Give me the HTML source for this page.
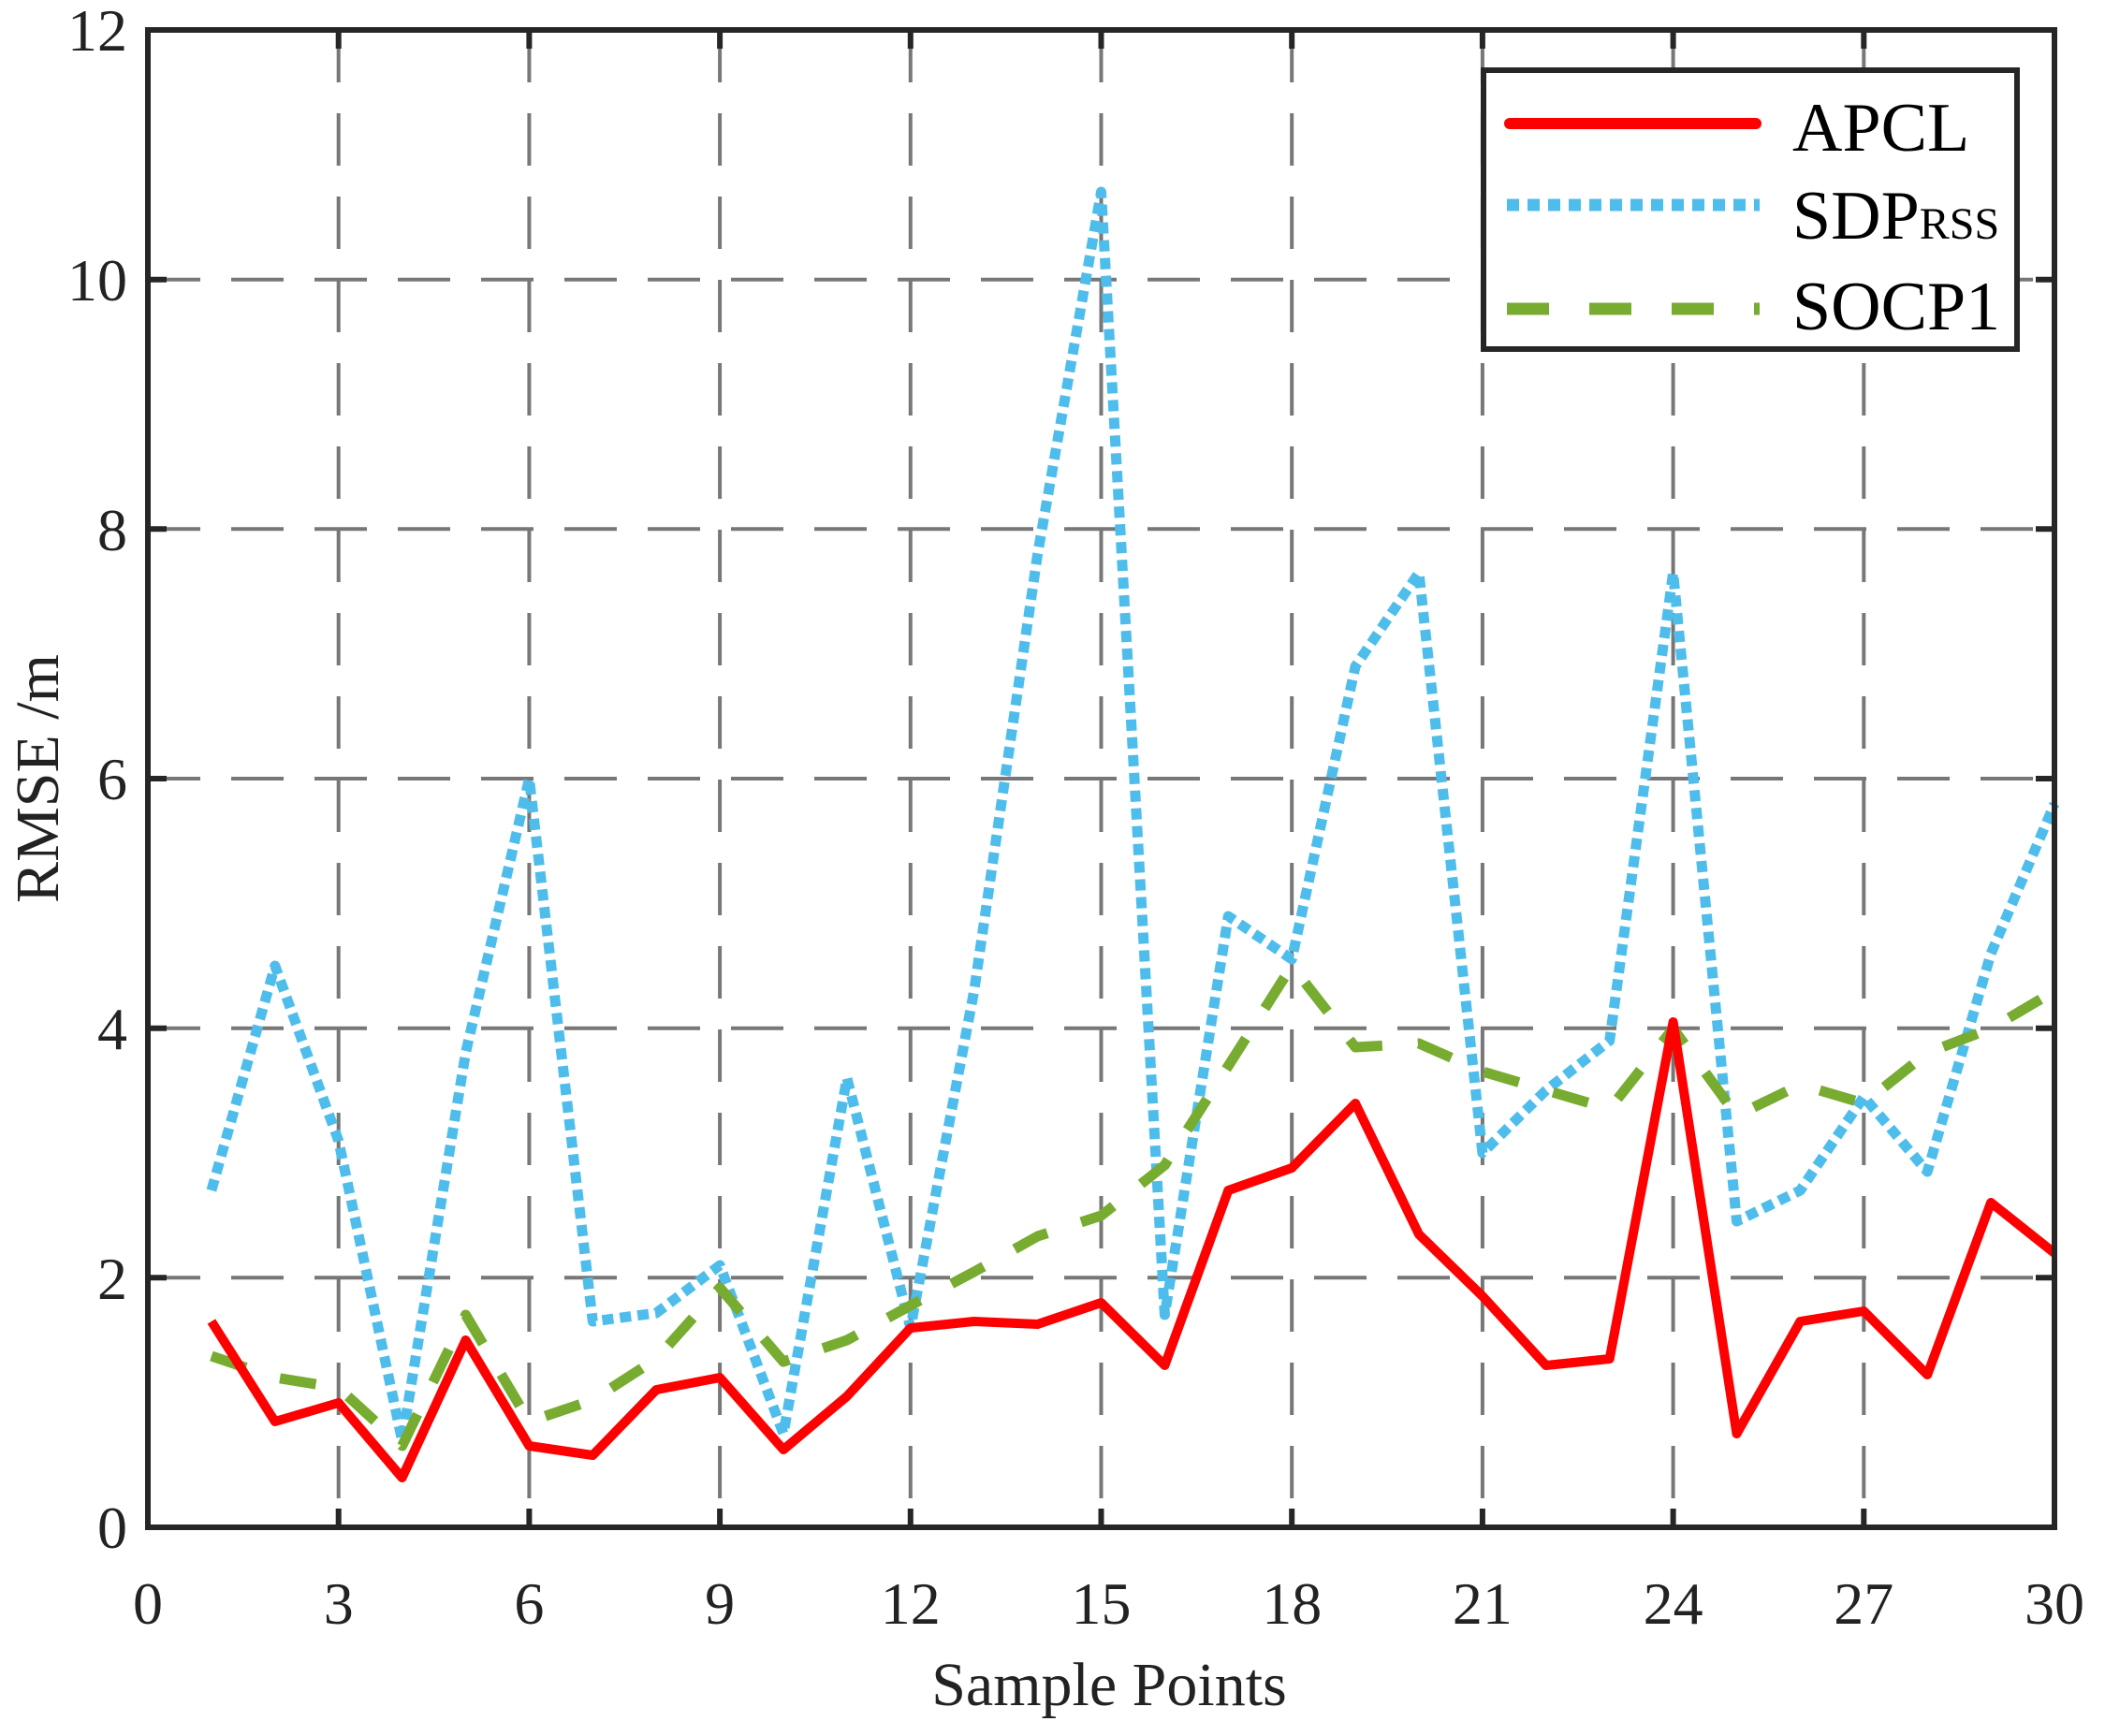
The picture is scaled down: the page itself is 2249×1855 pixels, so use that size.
<!DOCTYPE html>
<html><head><meta charset="utf-8"><style>html,body{margin:0;padding:0;background:#fff}svg{display:block}</style></head>
<body>
<svg width="2249" height="1855" viewBox="0 0 2249 1855" xmlns="http://www.w3.org/2000/svg" font-family="'Liberation Serif', serif" fill="#222">
<rect width="2249" height="1855" fill="#fff"/>
<g stroke="#777" stroke-width="4" stroke-dasharray="56 33">
<line x1="361.7" y1="32" x2="361.7" y2="1632"/><line x1="565.4" y1="32" x2="565.4" y2="1632"/><line x1="769.1" y1="32" x2="769.1" y2="1632"/><line x1="972.8" y1="32" x2="972.8" y2="1632"/><line x1="1176.5" y1="32" x2="1176.5" y2="1632"/><line x1="1380.2" y1="32" x2="1380.2" y2="1632"/><line x1="1583.9" y1="32" x2="1583.9" y2="1632"/><line x1="1787.6" y1="32" x2="1787.6" y2="1632"/><line x1="1991.3" y1="32" x2="1991.3" y2="1632"/>
<line x1="158" y1="1365.3" x2="2195" y2="1365.3"/><line x1="158" y1="1098.7" x2="2195" y2="1098.7"/><line x1="158" y1="832" x2="2195" y2="832"/><line x1="158" y1="565.3" x2="2195" y2="565.3"/><line x1="158" y1="298.7" x2="2195" y2="298.7"/>
</g>
<g fill="none" stroke-linejoin="round">
<polyline stroke="#4FBDEB" stroke-width="11" stroke-dasharray="12 7" points="225.9,1272 293.8,1032 361.7,1219 429.6,1539 497.5,1125 565.4,832 633.3,1412 701.2,1403 769.1,1352 837,1532 904.9,1152 972.8,1419 1040.7,1059 1108.6,592 1176.5,205 1244.4,1405 1312.3,979 1380.2,1025 1448.1,712 1516,612 1583.9,1232 1651.8,1165 1719.7,1112 1787.6,612 1855.5,1305 1923.4,1272 1991.3,1172 2059.2,1252 2127.1,1019 2195,859"/>
<polyline stroke="#77AC30" stroke-width="11" stroke-dasharray="39 38" points="225.9,1449 293.8,1472 361.7,1483 429.6,1545 497.5,1405 565.4,1519 633.3,1496 701.2,1452 769.1,1376 837,1455 904.9,1432 972.8,1395 1040.7,1359 1108.6,1321 1176.5,1299 1244.4,1245 1312.3,1139 1380.2,1032 1448.1,1119 1516,1115 1583.9,1145 1651.8,1165 1719.7,1185 1787.6,1099 1855.5,1192 1923.4,1159 1991.3,1179 2059.2,1125 2127.1,1099 2195,1059"/>
<polyline stroke="#FF0000" stroke-width="10" points="225.9,1412 293.8,1519 361.7,1499 429.6,1579 497.5,1432 565.4,1545 633.3,1555 701.2,1485 769.1,1472 837,1549 904.9,1492 972.8,1419 1040.7,1412 1108.6,1415 1176.5,1392 1244.4,1459 1312.3,1272 1380.2,1248 1448.1,1179 1516,1319 1583.9,1385 1651.8,1459 1719.7,1452 1787.6,1092 1855.5,1532 1923.4,1412 1991.3,1401 2059.2,1469 2127.1,1285 2195,1339"/>
</g>
<g stroke="#262626" stroke-width="6">
<rect x="158" y="32" width="2037" height="1600" fill="none"/>
<path d="M361.7 1632v-20M565.4 1632v-20M769.1 1632v-20M972.8 1632v-20M1176.5 1632v-20M1380.2 1632v-20M1583.9 1632v-20M1787.6 1632v-20M1991.3 1632v-20M361.7 32v20M565.4 32v20M769.1 32v20M972.8 32v20M1176.5 32v20M1380.2 32v20M1583.9 32v20M1787.6 32v20M1991.3 32v20M158 1365.3h20M158 1098.7h20M158 832h20M158 565.3h20M158 298.7h20M2195 1365.3h-20M2195 1098.7h-20M2195 832h-20M2195 565.3h-20M2195 298.7h-20"/>
</g>
<g font-size="64" text-anchor="end">
<text x="136" y="1654">0</text><text x="136" y="1388">2</text><text x="136" y="1121">4</text><text x="136" y="854">6</text><text x="136" y="588">8</text><text x="136" y="321">10</text><text x="136" y="54">12</text>
</g>
<g font-size="64" text-anchor="middle">
<text x="158" y="1735">0</text><text x="361.7" y="1735">3</text><text x="565.4" y="1735">6</text><text x="769.1" y="1735">9</text><text x="972.8" y="1735">12</text><text x="1176.5" y="1735">15</text><text x="1380.2" y="1735">18</text><text x="1583.9" y="1735">21</text><text x="1787.6" y="1735">24</text><text x="1991.3" y="1735">27</text><text x="2195" y="1735">30</text>
<text x="1185" y="1822" font-size="66">Sample Points</text>
<text transform="translate(62,832) rotate(-90)" font-size="66">RMSE /m</text>
</g>
<rect x="1585" y="75" width="570" height="298" fill="#fff" stroke="#262626" stroke-width="6"/>
<line x1="1613" y1="132" x2="1876" y2="132" stroke="#FF0000" stroke-width="12" stroke-linecap="round"/>
<line x1="1610" y1="219" x2="1880" y2="219" stroke="#4FBDEB" stroke-width="13" stroke-dasharray="13 9"/>
<line x1="1610" y1="330" x2="1880" y2="330" stroke="#77AC30" stroke-width="13" stroke-dasharray="45 43"/>
<g font-size="74" fill="#000">
<text x="1915" y="161">APCL</text>
<text x="1915" y="255">SDP<tspan font-size="48">RSS</tspan></text>
<text x="1915" y="352">SOCP1</text>
</g>
</svg>
</body></html>
